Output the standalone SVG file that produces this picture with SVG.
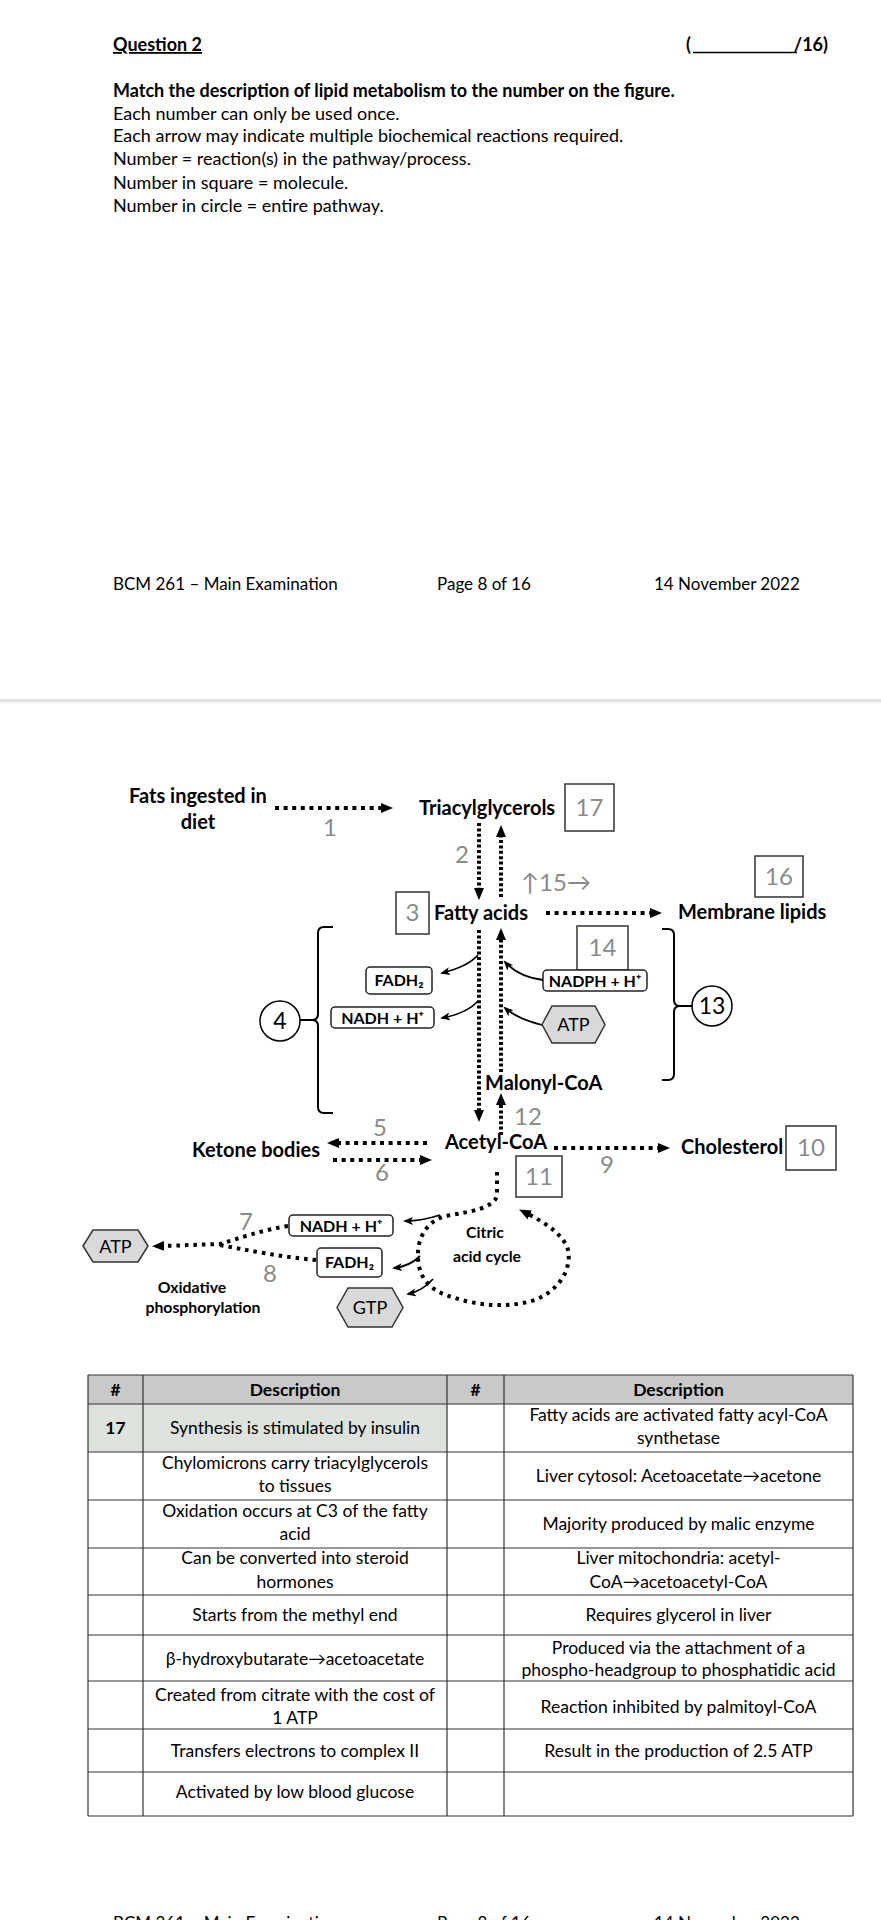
<svg xmlns="http://www.w3.org/2000/svg" width="881" height="1920" viewBox="0 0 881 1920">
<style>
text{font-family:Lato,"Liberation Sans",sans-serif;fill:#000}
.b{font-weight:bold}
.body{font-size:18px}
.foot{font-size:17px}
.lbl{font-size:20px;font-weight:bold}
.num{font-size:24px;fill:#8a8a8a;text-anchor:middle}
.cnum{font-size:23px;text-anchor:middle}
.mol{font-size:16px;font-weight:bold;text-anchor:middle}
.cap{font-size:15.8px;font-weight:bold;text-anchor:middle}
.hx{font-size:18px;text-anchor:middle}
.tb{font-size:17.5px;text-anchor:middle}
.box{fill:#fff;stroke:#333;stroke-width:1.5}
.rb{fill:#fff;stroke:#222;stroke-width:1.5}
.hex{fill:#d9d9d9;stroke:#333;stroke-width:1.5}
.dh{fill:none;stroke:#000;stroke-width:4;stroke-dasharray:4 4.6}
.dv{fill:none;stroke:#000;stroke-width:4;stroke-dasharray:3 2.4}
.dc{fill:none;stroke:#000;stroke-width:4;stroke-dasharray:3.5 5}
.cv{fill:none;stroke:#000;stroke-width:1.8}
.brk{fill:none;stroke:#000;stroke-width:2}
.tl{stroke:#333;stroke-width:1.2}
</style>
<defs>
<marker id="ah" markerUnits="userSpaceOnUse" markerWidth="14" markerHeight="12" refX="2" refY="5" orient="auto">
<path d="M0,0 L12,5 L0,10 z" fill="#000"/>
</marker>
<marker id="sa" markerUnits="userSpaceOnUse" markerWidth="12" markerHeight="10" refX="8" refY="4" orient="auto">
<path d="M0,0 L10,4 L0,8 L2.5,4 z" fill="#000"/>
</marker>
</defs>
<rect width="881" height="1920" fill="#fff"/>

<g id="header">
<text x="113" y="51" class="body b" text-decoration="underline">Question 2</text>
<text x="686" y="51" class="body b">(</text>
<line x1="693" y1="52.5" x2="797" y2="52.5" stroke="#000" stroke-width="1.6"/>
<text x="828" y="51" class="body b" text-anchor="end">/16)</text>
<text x="113" y="97" class="body b">Match the description of lipid metabolism to the number on the figure.</text>
<text x="113" y="120" class="body">Each number can only be used once.</text>
<text x="113" y="142" class="body">Each arrow may indicate multiple biochemical reactions required.</text>
<text x="113" y="165" class="body">Number = reaction(s) in the pathway/process.</text>
<text x="113" y="189" class="body">Number in square = molecule.</text>
<text x="113" y="212" class="body">Number in circle = entire pathway.</text>
</g>

<g id="footer">
<text x="113" y="590" class="foot">BCM 261 – Main Examination</text>
<text x="437" y="590" class="foot">Page 8 of 16</text>
<text x="654" y="590" class="foot">14 November 2022</text>
</g>
<rect id="divider" x="0" y="699" width="881" height="3.5" fill="#e3e3e3"/>

<g id="connectors">
<path class="dh" d="M275,808 L383,808" marker-end="url(#ah)"/>
<path class="dv" d="M479,823 L479,890" marker-end="url(#ah)"/>
<path class="dv" d="M501,897 L501,835" marker-end="url(#ah)"/>
<path class="dh" d="M546,913 L652,913" marker-end="url(#ah)"/>
<path class="dv" d="M479,930 L479,1112" marker-end="url(#ah)"/>
<path class="dv" d="M501,1072 L501,938" marker-end="url(#ah)"/>
<path class="dv" d="M501,1135 L501,1103" marker-end="url(#ah)"/>
<path class="dh" d="M427,1143 L337,1143" marker-end="url(#ah)"/>
<path class="dh" d="M333,1160 L422,1160" marker-end="url(#ah)"/>
<path class="dh" d="M554,1148 L660,1148" marker-end="url(#ah)"/>
<path class="cv" d="M478,955 C471,963 458,969 442,973" marker-end="url(#sa)"/>
<path class="cv" d="M478,1001 C471,1009 458,1015 442,1018" marker-end="url(#sa)"/>
<path class="cv" d="M543,980 C526,978 513,971 505,962" marker-end="url(#sa)"/>
<path class="cv" d="M542,1025 C526,1021 513,1015 505,1008" marker-end="url(#sa)"/>
<path class="dc" d="M497,1172 L497,1195 C495,1208 470,1212 445,1216 C425,1222 417,1240 418,1258 C419,1280 432,1292 455,1298 C480,1306 510,1308 535,1300 C560,1290 572,1268 568,1250 C565,1237 548,1224 528,1214" marker-end="url(#ah)"/>
<path class="cv" d="M440,1215 C428,1219 418,1221 405,1221" marker-end="url(#sa)"/>
<path class="cv" d="M420,1256 C413,1263 404,1267 394,1268" marker-end="url(#sa)"/>
<path class="cv" d="M433,1279 C426,1287 418,1292 408,1294" marker-end="url(#sa)"/>
<path class="dc" d="M288,1226 C262,1230 240,1238 220,1244 L162,1246" marker-end="url(#ah)"/>
<path class="dc" d="M316,1260 C282,1257 246,1250 220,1245"/>
</g>

<g id="fats"><text x="129" y="803" class="lbl">Fats ingested in</text><text x="198" y="829" class="lbl" text-anchor="middle">diet</text></g>
<g id="n1"><text x="330" y="836" class="num">1</text></g>
<g id="tag"><text x="419" y="815" class="lbl">Triacylglycerols</text></g>
<g id="n17"><rect class="box" x="565" y="784" width="49" height="47"/><text x="589.5" y="816" class="num">17</text></g>
<g id="n2"><text x="462" y="863" class="num">2</text></g>
<g id="n15"><text x="556" y="891" class="num">↑15→</text></g>
<g id="n3"><rect class="box" x="396" y="892" width="33" height="42"/><text x="412.5" y="921" class="num">3</text></g>
<g id="fattyacids"><text x="434" y="920" class="lbl">Fatty acids</text></g>
<g id="membrane"><text x="678" y="919" class="lbl">Membrane lipids</text></g>
<g id="n16"><rect class="box" x="755" y="856" width="48" height="41"/><text x="779" y="885" class="num">16</text></g>
<g id="n14"><rect class="box" x="577" y="926" width="51" height="44"/><text x="602.5" y="956" class="num">14</text></g>
<g id="nadph"><rect class="rb" x="543" y="970" width="104" height="21" rx="4"/><text x="595" y="986.5" class="mol">NADPH + H⁺</text></g>
<g id="atp1"><polygon class="hex" points="542,1024.5 552,1006 595,1006 605,1024.5 595,1043 552,1043"/><text x="573.5" y="1031" class="hx">ATP</text></g>
<g id="fadh1"><rect class="rb" x="366" y="967" width="66" height="27" rx="4"/><text x="399" y="986" class="mol">FADH₂</text></g>
<g id="nadh1"><rect class="rb" x="331" y="1007" width="103" height="21" rx="4"/><text x="382.5" y="1023.5" class="mol">NADH + H⁺</text></g>
<g id="n4"><circle cx="280" cy="1021" r="20" fill="#fff" stroke="#000" stroke-width="1.5"/><text x="280" y="1029" class="cnum">4</text>
<path class="brk" d="M333,927 L324,927 Q318,927 318,933 L318,1014 Q318,1020 312,1020 L300,1020 M312,1020 Q318,1020 318,1026 L318,1107 Q318,1113 324,1113 L333,1113"/></g>
<g id="n13"><circle cx="712" cy="1006" r="20" fill="#fff" stroke="#000" stroke-width="1.5"/><text x="712" y="1014" class="cnum">13</text>
<path class="brk" d="M662,929 L668,929 Q674,929 674,935 L674,1000 Q674,1006 680,1006 L692,1006 M680,1006 Q674,1006 674,1012 L674,1074 Q674,1080 668,1080 L662,1080"/></g>
<g id="malonyl"><text x="485" y="1090" class="lbl">Malonyl-CoA</text></g>
<g id="n12"><text x="528" y="1125" class="num">12</text></g>
<g id="acetyl"><text x="445" y="1149" class="lbl">Acetyl-CoA</text></g>
<g id="ketone"><text x="192" y="1157" class="lbl">Ketone bodies</text></g>
<g id="n5"><text x="380" y="1136" class="num">5</text></g>
<g id="n6"><text x="382" y="1181" class="num">6</text></g>
<g id="n9"><text x="607" y="1173" class="num">9</text></g>
<g id="cholesterol"><text x="681" y="1154" class="lbl">Cholesterol</text></g>
<g id="n10"><rect class="box" x="786" y="1126" width="50" height="44"/><text x="811" y="1156" class="num">10</text></g>
<g id="n11"><rect class="box" x="516" y="1156" width="46" height="41"/><text x="539" y="1185" class="num">11</text></g>
<g id="citric"><text x="485" y="1238" class="cap">Citric</text><text x="487" y="1262" class="cap">acid cycle</text></g>
<g id="nadh2"><rect class="rb" x="289" y="1215" width="104" height="21" rx="4"/><text x="341" y="1231.5" class="mol">NADH + H⁺</text></g>
<g id="fadh2"><rect class="rb" x="317" y="1248" width="65" height="29" rx="4"/><text x="349.5" y="1268" class="mol">FADH₂</text></g>
<g id="gtp"><polygon class="hex" points="337,1307.5 348,1288 392,1288 403,1307.5 392,1327 348,1327"/><text x="370" y="1314" class="hx">GTP</text></g>
<g id="atp2"><polygon class="hex" points="83,1246 93,1230 138,1230 148,1246 138,1262 93,1262"/><text x="115.5" y="1252.5" class="hx">ATP</text></g>
<g id="n7"><text x="246" y="1230" class="num">7</text></g>
<g id="n8"><text x="270" y="1282" class="num">8</text></g>
<g id="oxphos"><text x="192" y="1293" class="cap">Oxidative</text><text x="203" y="1313" class="cap">phosphorylation</text></g>

<g id="table">
<rect x="88" y="1375" width="765" height="29" fill="#c9c9c9"/>
<rect x="88" y="1404" width="359" height="48" fill="#dde2dc"/>
<g class="tl">
<line x1="88" y1="1375" x2="853" y2="1375"/>
<line x1="88" y1="1404" x2="853" y2="1404"/>
<line x1="88" y1="1452" x2="853" y2="1452"/>
<line x1="88" y1="1500" x2="853" y2="1500"/>
<line x1="88" y1="1548" x2="853" y2="1548"/>
<line x1="88" y1="1595" x2="853" y2="1595"/>
<line x1="88" y1="1635" x2="853" y2="1635"/>
<line x1="88" y1="1681" x2="853" y2="1681"/>
<line x1="88" y1="1729" x2="853" y2="1729"/>
<line x1="88" y1="1772" x2="853" y2="1772"/>
<line x1="88" y1="1816" x2="853" y2="1816"/>
<line x1="88" y1="1375" x2="88" y2="1816"/>
<line x1="143" y1="1375" x2="143" y2="1816"/>
<line x1="447" y1="1375" x2="447" y2="1816"/>
<line x1="504" y1="1375" x2="504" y2="1816"/>
<line x1="853" y1="1375" x2="853" y2="1816"/>
</g>
<text x="115.5" y="1396" class="tb b">#</text>
<text x="295" y="1396" class="tb b">Description</text>
<text x="475.5" y="1396" class="tb b">#</text>
<text x="678.5" y="1396" class="tb b">Description</text>
<text x="115.5" y="1434" class="tb b">17</text>
<text x="295" y="1434" class="tb">Synthesis is stimulated by insulin</text>
<text x="678.5" y="1421" class="tb">Fatty acids are activated fatty acyl-CoA</text>
<text x="678.5" y="1444" class="tb">synthetase</text>
<text x="295" y="1469" class="tb">Chylomicrons carry triacylglycerols</text>
<text x="295" y="1492" class="tb">to tissues</text>
<text x="678.5" y="1482" class="tb">Liver cytosol: Acetoacetate→acetone</text>
<text x="295" y="1517" class="tb">Oxidation occurs at C3 of the fatty</text>
<text x="295" y="1540" class="tb">acid</text>
<text x="678.5" y="1530" class="tb">Majority produced by malic enzyme</text>
<text x="295" y="1564" class="tb">Can be converted into steroid</text>
<text x="295" y="1588" class="tb">hormones</text>
<text x="678.5" y="1564" class="tb">Liver mitochondria:  acetyl-</text>
<text x="678.5" y="1588" class="tb">CoA→acetoacetyl-CoA</text>
<text x="295" y="1621" class="tb">Starts from the methyl end</text>
<text x="678.5" y="1621" class="tb">Requires glycerol in liver</text>
<text x="295" y="1665" class="tb">β-hydroxybutarate→acetoacetate</text>
<text x="678.5" y="1654" class="tb">Produced via the attachment of a</text>
<text x="678.5" y="1676" class="tb">phospho-headgroup to phosphatidic acid</text>
<text x="295" y="1701" class="tb">Created from citrate with the cost of</text>
<text x="295" y="1724" class="tb">1 ATP</text>
<text x="678.5" y="1713" class="tb">Reaction inhibited by palmitoyl-CoA</text>
<text x="295" y="1757" class="tb">Transfers electrons to complex II</text>
<text x="678.5" y="1757" class="tb">Result in the production of 2.5 ATP</text>
<text x="295" y="1798" class="tb">Activated by low blood glucose</text>
</g>

<g id="footer2">
<text x="113" y="1929" class="foot">BCM 261 – Main Examination</text>
<text x="437" y="1929" class="foot">Page 8 of 16</text>
<text x="654" y="1929" class="foot">14 November 2022</text>
</g>
</svg>
